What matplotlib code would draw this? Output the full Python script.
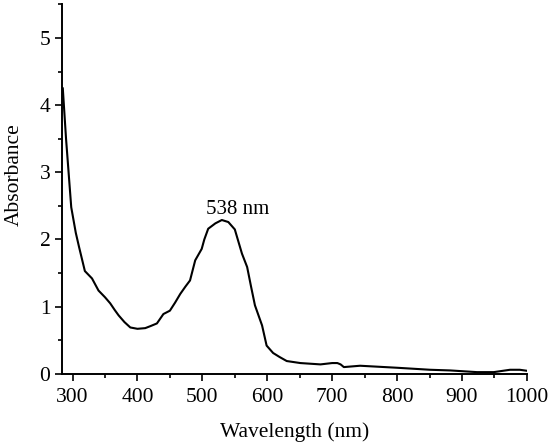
import matplotlib
matplotlib.use("Agg")
import matplotlib.pyplot as plt
from matplotlib.ticker import MultipleLocator

plt.rcParams['font.family'] = ['Liberation Serif', 'DejaVu Serif']
plt.rcParams['font.size'] = 15

# UV-vis spectrum
wavelength = [285, 290, 298, 305, 310, 319, 330, 340, 350, 358, 365, 371, 380, 389,
              400, 412, 420, 430, 440, 450, 458, 466, 474, 481, 489, 499, 503, 509,
              520, 530, 540, 550, 561, 569, 575, 581, 592, 599, 609, 619, 630, 651,
              682, 700, 708, 713, 718, 743, 800, 851, 882, 923, 949, 974, 989, 1000]
absorbance = [4.25, 3.50, 2.48, 2.10, 1.89, 1.53, 1.42, 1.24, 1.14, 1.05, 0.95, 0.87,
              0.77, 0.69, 0.67, 0.68, 0.71, 0.75, 0.89, 0.94, 1.06, 1.19, 1.30, 1.39,
              1.69, 1.86, 2.00, 2.16, 2.24, 2.29, 2.26, 2.15, 1.79, 1.59, 1.30, 1.02,
              0.72, 0.42, 0.31, 0.25, 0.19, 0.16, 0.14, 0.16, 0.16, 0.14, 0.10, 0.12,
              0.09, 0.06, 0.05, 0.025, 0.025, 0.06, 0.06, 0.045]

peak_label = "538 nm"

fig = plt.figure(figsize=(5.5, 4.45), dpi=100)
ax = fig.add_axes([0.113, 0.16, 0.845, 0.83])
ax.plot(wavelength, absorbance, color='black', linewidth=1.5)

ax.text(555, 2.45, peak_label, ha='center', va='center', fontsize=15)

ax.set_xlim(284, 1000)
ax.set_ylim(0, 5.5)
ax.xaxis.set_major_locator(MultipleLocator(100))
ax.xaxis.set_minor_locator(MultipleLocator(50))
ax.yaxis.set_major_locator(MultipleLocator(1))
ax.yaxis.set_minor_locator(MultipleLocator(0.5))
ax.tick_params(which='major', direction='out', length=5, width=1.2, labelsize=15.5)
ax.tick_params(which='minor', direction='out', length=3, width=1.2)
ax.tick_params(axis='x', pad=5)
for side in ['top', 'right']:
    ax.spines[side].set_visible(False)
for side in ['left', 'bottom']:
    ax.spines[side].set_linewidth(1.4)

ax.set_xlabel("Wavelength (nm)", fontsize=15.5)
ax.set_ylabel("Absorbance", fontsize=15.5)
ax.xaxis.set_label_coords(0.5, -0.132)
ax.yaxis.set_label_coords(-0.083, 0.54)

fig.savefig("out.png", dpi=100)
